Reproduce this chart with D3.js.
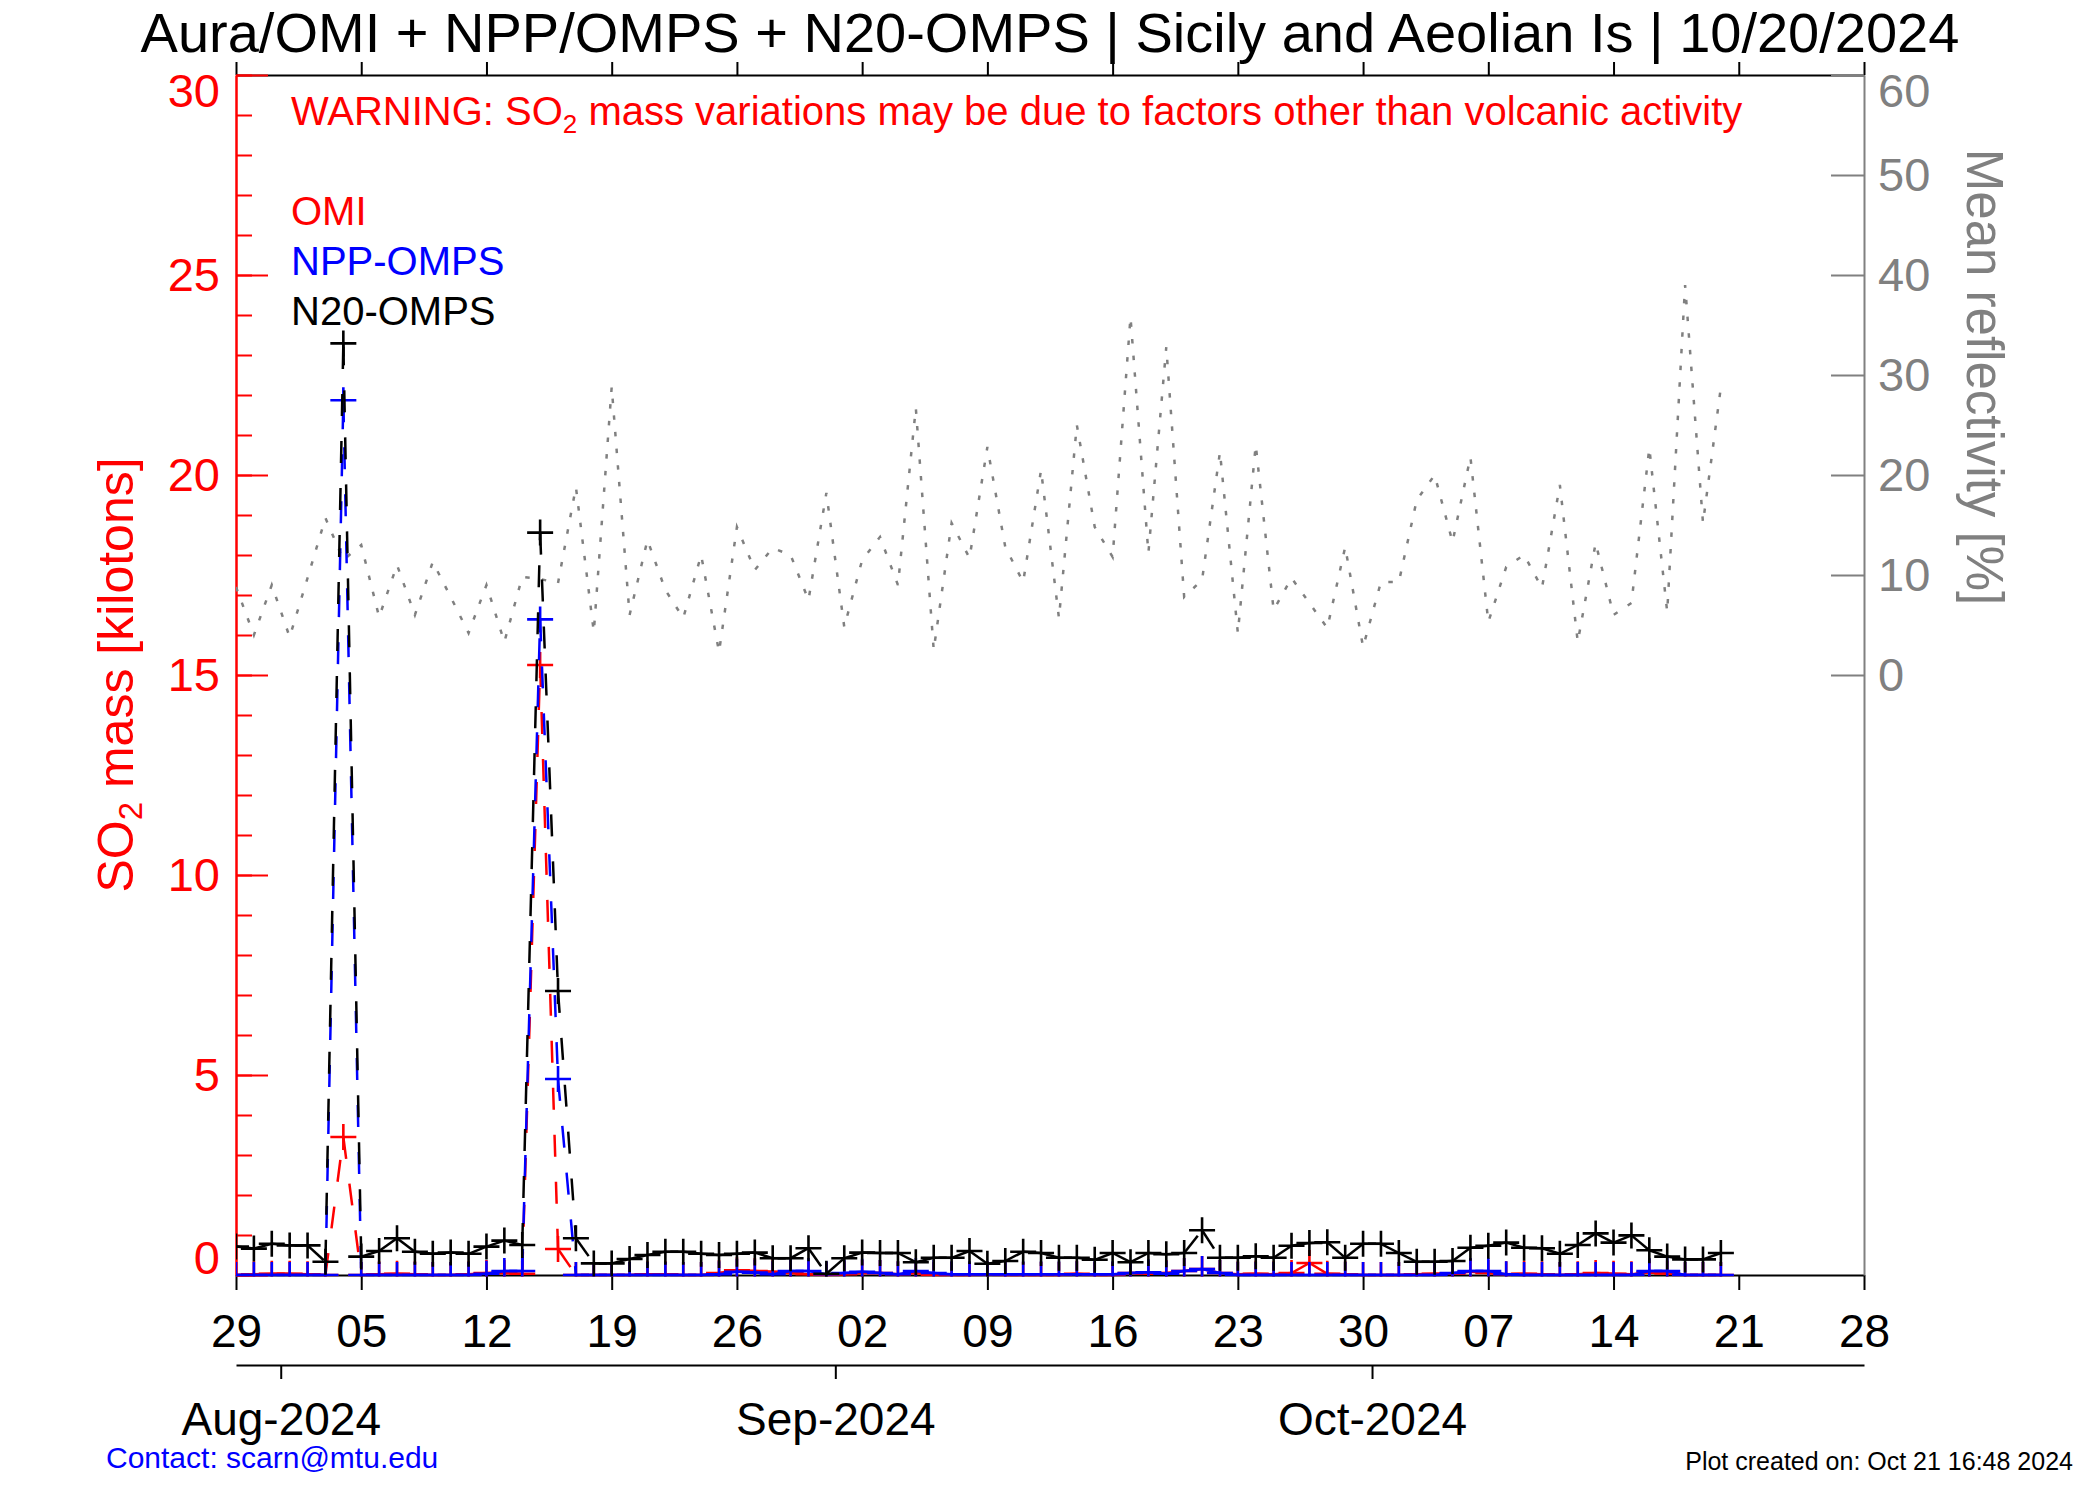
<!DOCTYPE html>
<html><head><meta charset="utf-8">
<script src="https://cdn.jsdelivr.net/npm/d3@7"></script>
<style>
body{margin:0;background:#fff}
text{font-family:"Liberation Sans",Arial,Helvetica,sans-serif}
</style>
</head><body>
<svg id="chart" width="2100" height="1500"></svg>
<script>
// ---------------- data ----------------
const startDay = "2024-07-29";   // first day of x axis and of the data
const endDay   = "2024-10-28";   // last day of x axis
const nDays = 84;                // daily values Jul 29 .. Oct 20

const omi = [0,0.02,0.03,0.03,0.02,0,3.45,0,0.02,0.03,
  0.02,0,0,0.02,0.05,0.05,0.03,15.25,0.65,0,
  0,0,0,0.02,0.02,0,0,0.05,0.12,0.1,
  0.08,0.05,0.02,0,0.02,0.05,0.05,0.02,0.05,0,
  0,0,0.02,0,0,0,0,0.03,0,0,
  0.05,0.03,0.05,0.1,0.15,0.05,0.02,0.03,0.02,0.05,
  0.3,0.03,0.02,0,0,0,0.02,0.03,0.03,0.08,
  0.05,0.02,0.03,0.02,0,0.02,0.05,0.03,0.02,0.06,
  0.04,0,0,0];
const npp = [0,0,0,0,0,0,21.87,0,0,0,
  0,0,0,0,0.03,0.1,0.1,16.39,4.9,0,
  0,0,0,0,0,0,0,0.02,0.08,0.06,
  0.02,0.1,0.1,0.02,0.05,0.08,0.05,0.02,0.1,0.05,
  0.02,0.02,0.02,0.02,0.02,0.02,0.02,0.02,0.02,0.02,
  0.05,0.07,0.03,0.1,0.15,0.05,0,0,0,0,
  0,0,0,0,0,0,0,0,0.05,0.1,
  0.1,0.02,0,0,0,0,0,0,0,0.1,
  0.1,0,0,0];
const n20 = [0.71,0.66,0.78,0.74,0.74,0.33,23.29,0.46,0.6,0.92,
  0.58,0.53,0.56,0.53,0.71,0.86,0.75,18.56,7.1,0.92,
  0.29,0.29,0.4,0.5,0.58,0.58,0.53,0.5,0.53,0.56,
  0.42,0.42,0.67,0.03,0.42,0.56,0.55,0.55,0.32,0.43,
  0.43,0.6,0.28,0.35,0.58,0.55,0.43,0.43,0.38,0.55,
  0.32,0.55,0.52,0.55,1.12,0.43,0.43,0.47,0.43,0.73,
  0.8,0.82,0.43,0.78,0.78,0.55,0.33,0.33,0.35,0.68,
  0.73,0.81,0.68,0.67,0.53,0.75,1.04,0.81,0.99,0.62,
  0.46,0.39,0.39,0.55];
const reflectivity = [8.8,4.0,9.0,3.8,9.7,15.7,11.5,13.0,5.8,11.0,
  6.0,11.3,7.8,4.2,9.0,3.3,9.8,9.6,9.2,18.8,
  4.3,28.8,6.0,13.5,8.5,5.7,12.0,2.3,14.8,10.5,
  12.7,12.0,7.5,18.2,4.8,11.5,13.8,9.0,26.7,2.5,
  15.2,11.7,22.8,12.8,9.3,20.5,5.7,25.0,14.8,11.8,
  35.8,12.2,32.8,7.8,9.5,22.3,4.2,23.0,6.5,9.7,
  7.2,4.7,12.8,2.8,9.3,9.3,17.5,20.0,13.3,21.8,
  5.3,10.8,12.0,8.7,19.0,3.3,13.2,6.0,7.2,22.7,
  6.3,39.0,15.2,28.8];

const massTicksMajor = [0,5,10,15,20,25,30];
const reflTicks = [0,10,20,30,40,50,60];
const monthTickDates = ["2024-07-31T12","2024-08-31T12","2024-09-30T12"];
const monthLabels = ["Aug-2024","Sep-2024","Oct-2024"];

const titleText = "Aura/OMI + NPP/OMPS + N20-OMPS | Sicily and Aeolian Is | 10/20/2024";
const seriesNames = ["OMI","NPP-OMPS","N20-OMPS"];
const seriesColors = ["#ff0000","#0000ff","#000000"];

// ---------------- layout ----------------
const W = 2100, H = 1500;
const L = 236, R = 1864, T = 75, B = 1275;
const FONT = '"Liberation Sans",Arial,Helvetica,sans-serif';
const GRAY = "#808080";

const parseDay = d3.utcParse("%Y-%m-%d");
const parseHour = d3.utcParse("%Y-%m-%dT%H");
const t0 = parseDay(startDay), t1 = parseDay(endDay);
const days = d3.utcDay.range(t0, d3.utcDay.offset(t0, nDays));

const x = d3.scaleUtc().domain([t0, t1]).range([L, R]);
const y = d3.scaleLinear().domain([0, 30]).range([B, T]);
const yR = d3.scaleLinear().domain([-60, 60]).range([B, T]);

const svg = d3.select("#chart");
svg.append("rect").attr("width", W).attr("height", H).attr("fill", "#fff");

svg.append("clipPath").attr("id", "plotclip").append("rect")
  .attr("x", L).attr("y", T - 1).attr("width", R - L).attr("height", B - T + 2.5);

function styleAxis(g, color, fs) {
  g.selectAll(".domain").attr("stroke", color).attr("stroke-width", 2);
  g.selectAll(".tick line").attr("stroke", color).attr("stroke-width", 2);
  g.selectAll(".tick text").attr("fill", color).attr("font-size", fs).attr("font-family", FONT);
  g.attr("font-family", FONT);
}
function clampLabels(g, scale, fs) {
  const cap = 0.716 * fs;
  g.selectAll(".tick").each(function(d) {
    const ty = scale(d);
    let shift = 0;
    if (ty - cap / 2 < T) shift = T - (ty - cap / 2);
    if (ty + cap / 2 > B) shift = B - (ty + cap / 2);
    d3.select(this).select("text").attr("y", shift);
  });
}

// ---------------- axes ----------------
// weekly ticks counted from the first day (Jul 29, Aug 05, ...)
const weekTicks = d3.utcDay.range(t0, d3.utcDay.offset(t1, 1), 7);

// top axis
svg.append("g").attr("transform", `translate(0,${T})`)
  .call(d3.axisTop(x).tickValues(weekTicks).tickSize(13).tickSizeOuter(0).tickFormat(""))
  .call(g => styleAxis(g, "#000", 46));

// bottom axis (days)
svg.append("g").attr("transform", `translate(0,${B})`)
  .call(d3.axisBottom(x).tickValues(weekTicks).tickSize(15).tickSizeOuter(0).tickPadding(24)
    .tickFormat(d3.utcFormat("%d")))
  .call(g => styleAxis(g, "#000", 46));

// month axis
const monthTicks = monthTickDates.map(parseHour);
svg.append("g").attr("transform", `translate(0,1365)`)
  .call(d3.axisBottom(x).tickValues(monthTicks).tickSize(14).tickSizeOuter(0).tickPadding(23)
    .tickFormat((d, i) => monthLabels[i]))
  .call(g => styleAxis(g, "#000", 46));

// right axis (reflectivity)
const gR = svg.append("g").attr("transform", `translate(${R},0)`)
  .call(d3.axisRight(yR).tickValues(reflTicks).tickSize(-33).tickSizeOuter(0).tickPadding(14)
    .tickFormat(d3.format("d")))
  .call(g => styleAxis(g, GRAY, 47));
clampLabels(gR, yR, 47);

// left axis (SO2 mass) minor + major
svg.append("g").attr("transform", `translate(${L},0)`)
  .call(d3.axisLeft(y).tickValues(d3.range(0, 31)).tickSize(-16).tickSizeOuter(0).tickFormat(""))
  .call(g => styleAxis(g, "#ff0000", 47));
const gL = svg.append("g").attr("transform", `translate(${L},0)`)
  .call(d3.axisLeft(y).tickValues(massTicksMajor).tickSize(-32).tickSizeOuter(0).tickPadding(16)
    .tickFormat(d3.format("d")))
  .call(g => styleAxis(g, "#ff0000", 47));
clampLabels(gL, y, 47);

// ---------------- data ----------------
const plot = svg.append("g").attr("clip-path", "url(#plotclip)");

// reflectivity, dotted gray
plot.append("path")
  .datum(reflectivity)
  .attr("fill", "none").attr("stroke", GRAY).attr("stroke-width", 2.5)
  .attr("stroke-dasharray", "4.5,12.2")
  .attr("d", d3.line().x((d, i) => x(days[i])).y(d => yR(d)));

const allSeries = [omi, npp, n20];
allSeries.forEach((vals, si) => {
  const color = seriesColors[si];
  const pts = vals.map((v, i) => [x(days[i]), y(v)]);
  const g = plot.append("g");
  g.selectAll("line.seg").data(d3.pairs(pts)).join("line")
    .attr("class", "seg")
    .attr("x1", d => d[0][0]).attr("y1", d => d[0][1])
    .attr("x2", d => d[1][0]).attr("y2", d => d[1][1])
    .attr("stroke", color).attr("stroke-width", 2.5)
    .attr("stroke-dasharray", "22,25");
  g.selectAll("path.mk").data(pts).join("path")
    .attr("class", "mk")
    .attr("d", d => `M${d[0] - 13},${d[1]}H${d[0] + 13}M${d[0]},${d[1] - 13}V${d[1] + 13}`)
    .attr("stroke", color).attr("stroke-width", 2.6).attr("fill", "none");
});

// ---------------- texts ----------------
svg.append("text").attr("x", 1050).attr("y", 52).attr("text-anchor", "middle")
  .attr("font-size", 56).attr("fill", "#000").text(titleText);

const warn = svg.append("text").attr("x", 291).attr("y", 125)
  .attr("font-size", 40).attr("fill", "#ff0000");
warn.append("tspan").text("WARNING: SO");
warn.append("tspan").attr("font-size", 26).attr("dy", 8).text("2");
warn.append("tspan").attr("dy", -8).text(" mass variations may be due to factors other than volcanic activity");

seriesNames.forEach((n, i) => {
  svg.append("text").attr("x", 291).attr("y", 225 + 50 * i)
    .attr("font-size", 40).attr("fill", seriesColors[i]).text(n);
});

const yt = svg.append("text")
  .attr("transform", `translate(133,${(T + B) / 2}) rotate(-90)`)
  .attr("text-anchor", "middle").attr("font-size", 50).attr("fill", "#ff0000");
yt.append("tspan").text("SO");
yt.append("tspan").attr("font-size", 33).attr("dy", 9).text("2");
yt.append("tspan").attr("dy", -9).text(" mass [kilotons]");

svg.append("text")
  .attr("transform", `translate(1967,377) rotate(90)`)
  .attr("text-anchor", "middle").attr("font-size", 51).attr("fill", GRAY)
  .text("Mean reflectivity [%]");

svg.append("text").attr("x", 106).attr("y", 1468).attr("font-size", 30)
  .attr("fill", "#0000ff").text("Contact: scarn@mtu.edu");
svg.append("text").attr("x", 2073).attr("y", 1470).attr("text-anchor", "end")
  .attr("font-size", 25).attr("fill", "#000").text("Plot created on: Oct 21 16:48 2024");
</script>
</body></html>
